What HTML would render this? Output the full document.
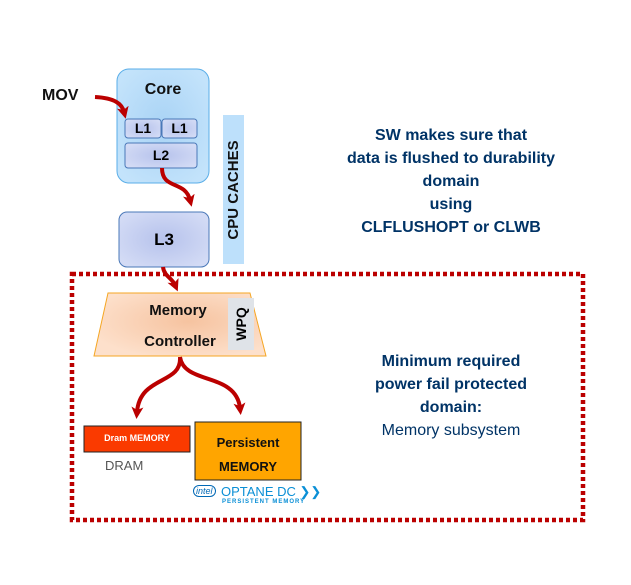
<!DOCTYPE html><html><head><style>
body{margin:0;width:631px;height:585px;background:#fff;position:relative;font-family:"Liberation Sans",sans-serif;overflow:hidden}
.a{position:absolute}
</style></head><body>
<svg class="a" style="left:0;top:0" width="631" height="585">
<defs>
<radialGradient id="bl" cx="50%" cy="50%" r="60%"><stop offset="0" stop-color="#a9d3f5"/><stop offset="1" stop-color="#c3e3fb"/></radialGradient>
<radialGradient id="pu" cx="50%" cy="50%" r="60%"><stop offset="0" stop-color="#b6c2ec"/><stop offset="1" stop-color="#d3dbf5"/></radialGradient>
<radialGradient id="or" cx="55%" cy="45%" r="60%"><stop offset="0" stop-color="#f6c3a0"/><stop offset="1" stop-color="#fde0cb"/></radialGradient>
<marker id="ar" markerWidth="12" markerHeight="12" refX="5" refY="6" orient="auto" markerUnits="userSpaceOnUse"><path d="M0,0 L12,6 L0,12 L3,6 z" fill="#b00"/></marker>
</defs>
<rect x="117" y="69" width="92" height="114" rx="12" fill="url(#bl)" stroke="#5aaee8" stroke-width="1"/>
<rect x="125" y="119" width="36" height="19" rx="3" fill="url(#pu)" stroke="#4a78b8"/>
<rect x="162" y="119" width="35" height="19" rx="3" fill="url(#pu)" stroke="#4a78b8"/>
<rect x="125" y="143" width="72" height="25" rx="3" fill="url(#pu)" stroke="#4a78b8"/>
<rect x="119" y="212" width="90" height="55" rx="8" fill="url(#pu)" stroke="#4a78b8"/>
<rect x="223" y="115" width="21" height="149" fill="#bde0fb"/>
<rect x="72" y="274" width="511" height="246" fill="none" stroke="#b00" stroke-width="4.5" stroke-dasharray="4,3"/>
<polygon points="108,293 250,293 266,356 94,356" fill="url(#or)" stroke="#f5a623" stroke-width="1"/>
<rect x="228" y="298" width="26" height="52" fill="#dfe3e8"/>
<rect x="84" y="426" width="106" height="26" fill="#fa3a00" stroke="#222"/>
<rect x="195" y="422" width="106" height="58" fill="#ffa500" stroke="#222"/>
<g fill="none" stroke="#b00" stroke-width="4">
<path d="M95,97 C115,98 122,104 124,112" marker-end="url(#ar)"/>
<path d="M162,168 C162,190 185,180 190,200" marker-end="url(#ar)"/>
<path d="M163,267 C164,276 172,278 175,285" marker-end="url(#ar)"/>
<path d="M180,357 C182,385 140,375 137,412" marker-end="url(#ar)"/>
<path d="M180,357 C184,385 236,372 240,408" marker-end="url(#ar)"/>
</g>
</svg>
<div class="a" style="left:42px;top:87px;font-size:16px;font-weight:bold;color:#111">MOV</div>
<div class="a" style="left:117px;top:81px;width:92px;text-align:center;font-size:16px;font-weight:bold;color:#111">Core</div>
<div class="a" style="left:125px;top:120px;width:36px;text-align:center;font-size:14px;font-weight:bold">L1</div>
<div class="a" style="left:162px;top:120px;width:35px;text-align:center;font-size:14px;font-weight:bold">L1</div>
<div class="a" style="left:125px;top:147px;width:72px;text-align:center;font-size:14px;font-weight:bold">L2</div>
<div class="a" style="left:119px;top:230px;width:90px;text-align:center;font-size:17px;font-weight:bold">L3</div>
<div class="a" style="left:159px;top:180px;width:150px;height:20px;transform:rotate(-90deg);text-align:center;font-size:15px;font-weight:bold;color:#111;line-height:20px;transform-origin:75px 10px">CPU CACHES</div>
<div class="a" style="left:110px;top:302px;width:136px;text-align:center;font-size:15px;font-weight:bold;color:#111">Memory</div>
<div class="a" style="left:110px;top:333px;width:140px;text-align:center;font-size:15px;font-weight:bold;color:#111">Controller</div>
<div class="a" style="left:216px;top:314px;width:50px;height:20px;transform:rotate(-90deg);text-align:center;font-size:14px;font-weight:bold;line-height:20px">WPQ</div>
<div class="a" style="left:84px;top:433px;width:106px;text-align:center;font-size:9px;font-weight:bold;color:#fff">Dram MEMORY</div>
<div class="a" style="left:105px;top:458px;font-size:13px;color:#555">DRAM</div>
<div class="a" style="left:195px;top:431px;width:106px;text-align:center;font-size:13px;font-weight:bold;color:#111;line-height:24px">Persistent<br>MEMORY</div>
<div class="a" style="left:193px;top:485px;font-size:9px;color:#0068b5;border:1px solid #0068b5;border-radius:8px;padding:0 2px;font-style:italic">intel</div>
<div class="a" style="left:221px;top:484px;font-size:13px;color:#0a8fd6">OPTANE DC ❯❯</div>
<div class="a" style="left:222px;top:499px;font-size:6px;color:#0a8fd6;letter-spacing:1px;font-weight:bold">PERSISTENT MEMORY</div>
<div class="a" style="left:320px;top:124px;width:262px;text-align:center;font-size:16px;font-weight:bold;color:#003366;line-height:23px">SW makes sure that<br>data is flushed to durability<br>domain<br>using<br>CLFLUSHOPT or CLWB</div>
<div class="a" style="left:340px;top:350px;width:222px;text-align:center;font-size:16px;color:#003366;line-height:23px"><b>Minimum required<br>power fail protected<br>domain:</b><br>Memory subsystem</div>
</body></html>
